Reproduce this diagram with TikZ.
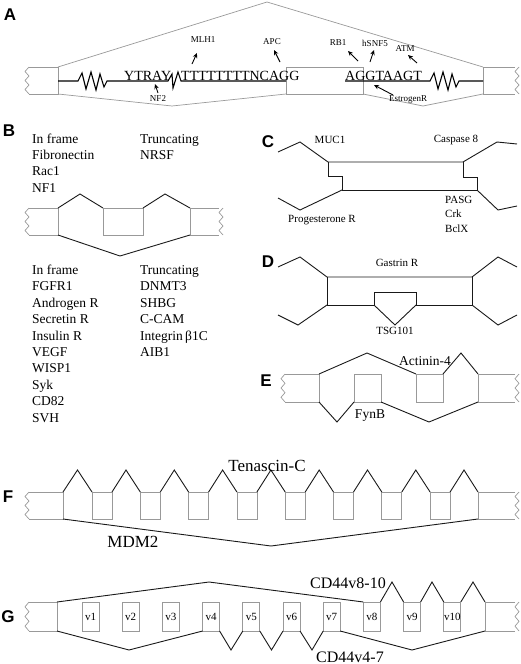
\documentclass[tikz,border=0pt]{standalone}
\usepackage{fontspec}
\setmainfont{Liberation Serif}
\setsansfont{Liberation Sans}
\usetikzlibrary{arrows.meta}
\newcommand\zigcap[3]{%
  \draw[exon] (#1,#2) \foreach \k in {1,...,6}{ -- ({#1-4*mod(\k,2)},{#2+(#3-#2)*\k/6}) };%
}
\begin{document}
\begin{tikzpicture}[x=1pt,y=-1pt,
  exon/.style={draw=black!40, line width=0.7pt},
  spl/.style={draw=black!90, line width=0.9pt},
  seq/.style={draw=black, line width=1.1pt},
  panel/.style={font=\sffamily\bfseries\fontsize{17}{17}\selectfont, inner sep=0pt},
  lbl/.style={font=\fontsize{13.5}{16}\selectfont, inner sep=0pt},
  mid/.style={font=\fontsize{11}{13}\selectfont, inner sep=0pt},
  big/.style={font=\fontsize{17}{19}\selectfont, inner sep=0pt},
  tiny/.style={font=\fontsize{9}{10}\selectfont, inner sep=0pt},
  seqtxt/.style={font=\fontsize{14}{16}\selectfont, inner sep=0pt, anchor=base west},
  arr/.style={-{Stealth[length=5pt,width=4.5pt]}, line width=0.9pt},
]
\useasboundingbox (0,0) rectangle (520,664);

% ================= A =================
\node[panel] (pA) at (10,15) {A};
\draw[exon] (58,67) -- (267,2) -- (483,67);
\draw[exon] (58,94) -- (172,106) -- (286,94);
\draw[exon] (363,94) -- (423,106) -- (483,94);
\draw[exon] (29,67) -- (58,67) -- (58,94) -- (29,94);
\zigcap{29}{67}{94}
\draw[exon] (286,67) rectangle (363,94);
\draw[exon] (515,67) -- (483,67) -- (483,94) -- (515,94);
\zigcap{519}{67}{94}
\draw[seq] (58,81) -- (78,81) -- (82,73) -- (86,89) -- (91,72) -- (96,90) -- (100,74) -- (104,87) -- (107,81) -- (168,81)
  -- (172,74) -- (173,88) -- (178,72) -- (181,81) -- (286,81);
\draw[seq] (345,81) -- (430,81) -- (434,73) -- (438,89) -- (443,72) -- (448,90) -- (452,74) -- (456,87) -- (459,81) -- (483,81);
\node[seqtxt] (ytray) at (124,80) {YTRAY};
\node[seqtxt] (tseq) at (181,80) {TTTTTTTTNCAGG};
\node[seqtxt] (aggt) at (345,80) {AGGTAAGT};
\node[tiny] (mlh1) at (203,40) {MLH1};
\node[tiny] (apc) at (272,42) {APC};
\node[tiny] (nf2) at (158,99) {NF2};
\node[tiny] (rb1) at (338,43) {RB1};
\node[tiny] (hsnf) at (375,43) {hSNF5};
\node[tiny] (atm) at (405,49) {ATM};
\node[tiny] (estr) at (408,100) {EstrogenR};
\coordinate (tm) at (192,64); \coordinate (hm) at (197,53);
\coordinate (ta) at (280,62); \coordinate (ha) at (274,50);
\coordinate (tn) at (158,93); \coordinate (hn) at (155,84);
\coordinate (tr) at (358,61); \coordinate (hr) at (348,51);
\coordinate (ts) at (370,62); \coordinate (hs) at (374,50);
\coordinate (tt) at (417,63); \coordinate (ht) at (408,55);
\coordinate (te) at (393,95); \coordinate (he) at (374,85);
\foreach \a/\b in {tm/hm,ta/ha,tn/hn,tr/hr,ts/hs,tt/ht,te/he} \draw[arr] (\a) -- (\b);

% ================= B =================
\node[panel] (pB) at (9,131) {B};
\foreach \t [count=\i from 0] in {In frame, Fibronectin, Rac1, NF1}
  \node[lbl, anchor=base west] (bu\i) at (32,{143.5+16.2*\i}) {\t};
\foreach \t [count=\i from 0] in {Truncating, NRSF}
  \node[lbl, anchor=base west] (bv\i) at (140,{143.5+16.2*\i}) {\t};
\foreach \t [count=\i from 0] in {In frame, FGFR1, Androgen R, Secretin R, Insulin R, VEGF, WISP1, Syk, CD82, SVH}
  \node[lbl, anchor=base west] (bl\i) at (32,{274.5+16.4*\i}) {\t};
\foreach \t [count=\i from 0] in {Truncating, DNMT3, SHBG, C-CAM, Integrin\,β1C, AIB1}
  \node[lbl, anchor=base west] (bm\i) at (140,{274.5+16.4*\i}) {\t};
\draw[exon] (29,208) -- (58,208) -- (58,235) -- (29,235);
\zigcap{29}{208}{235}
\draw[exon] (103,208) rectangle (143,235);
\draw[exon] (219,208) -- (190,208) -- (190,235) -- (219,235);
\zigcap{223}{208}{235}
\draw[spl] (58,208) -- (80,194) -- (103,208);
\draw[spl] (143,208) -- (165,194) -- (190,208);
\draw[spl] (58,235) -- (120,256) -- (190,235);

% ================= C =================
\node[panel] (pC) at (268,142) {C};
\draw[spl] (278,152) -- (300,142) -- (328,162) -- (463,162) -- (497,142) -- (517,144);
\draw[spl] (328,162) -- (328,176) -- (342,176) -- (342,190) -- (477,190) -- (477,177) -- (463,177) -- (463,162);
\draw[spl] (278,198) -- (300,210) -- (342,190);
\draw[spl] (477,190) -- (498,210) -- (517,206);
\node[mid] (muc) at (330,140) {MUC1};
\node[mid] (casp) at (456,140) {Caspase 8};
\node[mid] (prog) at (322,220) {Progesterone R};
\node[mid, anchor=west] (pasg) at (445,200) {PASG};
\node[mid, anchor=west] (crk) at (445,214) {Crk};
\node[mid, anchor=west] (bclx) at (445,229) {BclX};

% ================= D =================
\node[panel] (pD) at (268,262) {D};
\draw[spl] (278,267) -- (300,257) -- (327,277) -- (472,277) -- (498,257) -- (517,267);
\draw[spl] (374,305) -- (327,305) -- (327,277);
\draw[spl] (416,305) -- (472,305) -- (472,277);
\draw[spl] (374,305) -- (374,292) -- (416,292) -- (416,305);
\draw[spl] (374,305) -- (395,325) -- (416,305);
\draw[spl] (278,315) -- (298,325) -- (327,305);
\draw[spl] (472,305) -- (498,325) -- (517,315);
\node[mid] (gas) at (397,263) {Gastrin R};
\node[mid] (tsg) at (395,331) {TSG101};

% ================= E =================
\node[panel] (pE) at (266,381) {E};
\draw[exon] (285,374) -- (319,374) -- (319,402) -- (285,402);
\zigcap{285}{374}{402}
\draw[exon] (354,374) rectangle (381,402);
\draw[exon] (416,374) rectangle (443,402);
\draw[exon] (515,374) -- (478,374) -- (478,402) -- (515,402);
\zigcap{519}{374}{402}
\draw[spl] (319,374) -- (367,353) -- (416,374);
\draw[spl] (443,374) -- (461,353) -- (478,374);
\draw[spl] (319,402) -- (337,422) -- (354,402);
\draw[spl] (381,402) -- (429,422) -- (478,402);
\node[lbl] (act) at (425,361) {Actinin-4};
\node[lbl] (fyn) at (370,416) {FynB};

% ================= F =================
\node[panel] (pF) at (8,497) {F};
\draw[exon] (29,492) -- (63,492) -- (63,519) -- (29,519);
\zigcap{29}{492}{519}
\draw[exon] (515,492) -- (478,492) -- (478,519) -- (515,519);
\zigcap{519}{492}{519}
\foreach \i in {0,...,7} \draw[exon] ({92+48.3*\i},492) rectangle ({112+48.3*\i},519);
\draw[spl] (63,492) -- (77.5,470) -- (92,492);
\foreach \i in {1,...,7} \draw[spl] ({112+48.3*(\i-1)},492) -- ({126+48.3*(\i-1)},470) -- ({92+48.3*\i},492);
\draw[spl] (450.1,492) -- (464,470) -- (478,492);
\draw[spl] (63,519) -- (271,546) -- (478,519);
\node[big] (ten) at (267,466) {Tenascin-C};
\node[big] (mdm) at (133,542) {MDM2};

% ================= G =================
\node[panel] (pG) at (8,617) {G};
\draw[exon] (29,602) -- (57,602) -- (57,631) -- (29,631);
\zigcap{29}{602}{631}
\draw[exon] (515,602) -- (485,602) -- (485,631) -- (515,631);
\zigcap{519}{602}{631}
\foreach \i in {1,...,10} {
  \draw[exon] ({82+40.2*(\i-1)},602) rectangle ({99+40.2*(\i-1)},631);
  \node[mid] (v\i) at ({90.5+40.2*(\i-1)},616.5) {v\i};
}
\draw[spl] (57,602) -- (209,582) -- (363.4,602);
\draw[spl] (380.4,602) -- (392,582) -- (403.6,602);
\draw[spl] (420.6,602) -- (432,582) -- (443.8,602);
\draw[spl] (460.8,602) -- (473,582) -- (485,602);
\draw[spl] (57,631) -- (129,650) -- (202.6,631);
\draw[spl] (219.6,631) -- (231,650) -- (242.8,631);
\draw[spl] (259.8,631) -- (271.5,650) -- (283,631);
\draw[spl] (300,631) -- (312,650) -- (323.2,631);
\draw[spl] (340.2,631) -- (412,650) -- (485,631);
\node[font=\fontsize{16}{18}\selectfont, inner sep=0pt] (cd810) at (348,583) {CD44v8-10};
\node[font=\fontsize{16}{18}\selectfont, inner sep=0pt, anchor=base] (cd47) at (350,662) {CD44v4-7};
\end{tikzpicture}
\end{document}
